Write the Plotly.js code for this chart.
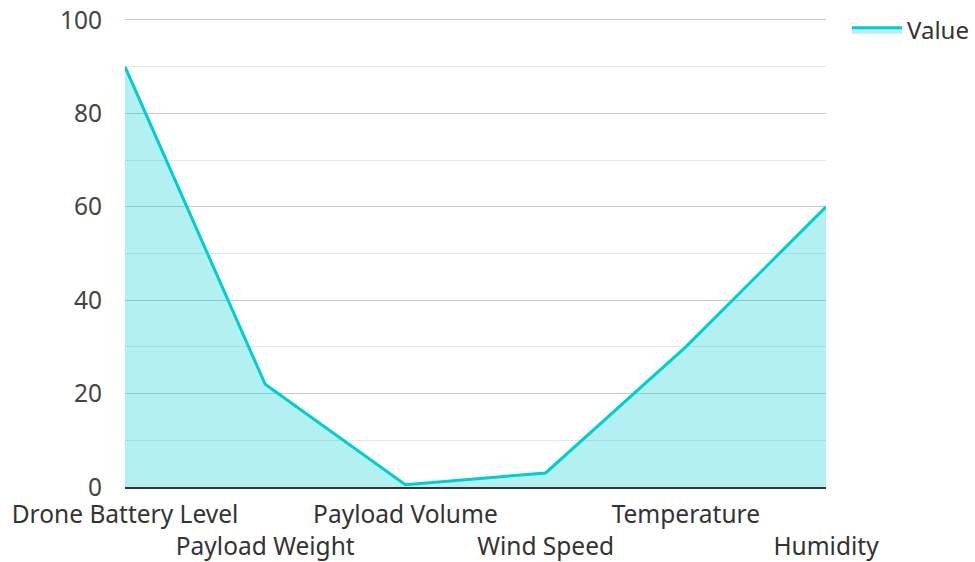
<!DOCTYPE html>
<html>
<head>
<meta charset="utf-8">
<script src="https://cdn.plot.ly/plotly-3.0.1.min.js"></script>
<style>html,body{margin:0;padding:0;background:#fff;}#chart{width:975px;height:562px;}</style>
</head>
<body>
<div id="chart"></div>
<script>
const categories = ["Drone Battery Level", "Payload Weight", "Payload Volume", "Wind Speed", "Temperature", "Humidity"];
const values = [90, 22, 0.5, 3, 30, 60];
const seriesName = "Value";
const yTicks = [0, 20, 40, 60, 80, 100];

const tickText = categories.map((c, i) => i % 2 === 1 ? "<br>" + c : c);

const trace = {
  type: "scatter",
  mode: "lines",
  name: seriesName,
  x: categories,
  y: values,
  fill: "tozeroy",
  fillcolor: "rgba(0,206,209,0.3)",
  line: {color: "#00CED1", width: 3}
};

const layout = {
  width: 975,
  height: 562,
  margin: {l: 125, r: 149, t: 17, b: 75, autoexpand: false},
  paper_bgcolor: "#fff",
  plot_bgcolor: "#fff",
  font: {family: "Noto Sans, Open Sans, sans-serif", size: 24, color: "#444"},
  showlegend: true,
  legend: {x: 1.03, y: 1.02, xanchor: "left", yanchor: "top", itemwidth: 50, font: {size: 24, color: "#333"}, bgcolor: "rgba(0,0,0,0)"},
  xaxis: {
    type: "category",
    range: [0, categories.length - 1],
    tickvals: categories,
    ticktext: tickText,
    tickangle: 0,
    automargin: false,
    showgrid: false,
    showline: true,
    linecolor: "#333",
    linewidth: 2,
    ticks: "",
    ticklabelstandoff: 5,
    tickfont: {size: 24.5, color: "#333"},
    zeroline: false
  },
  yaxis: {
    range: [0, 100.64],
    tickvals: yTicks,
    automargin: false,
    showgrid: true,
    gridcolor: "#c8c8c8",
    gridwidth: 1,
    minor: {dtick: 10, showgrid: true, gridcolor: "#e6e6e6", gridwidth: 1},
    zeroline: false,
    showline: false,
    ticks: "",
    ticklabelstandoff: 22,
    tickfont: {size: 24.5, color: "#444"}
  }
};

Plotly.newPlot("chart", [trace], layout, {displayModeBar: false, staticPlot: true});
</script>
</body>
</html>
